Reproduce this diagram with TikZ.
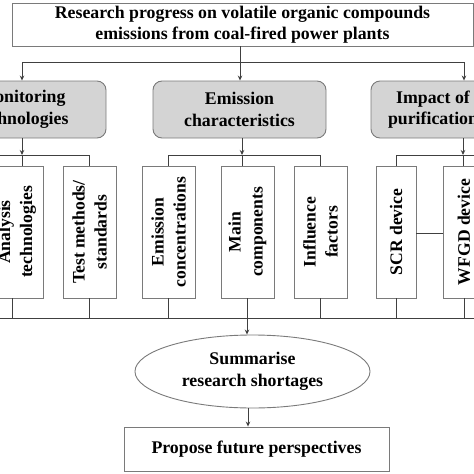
\documentclass[tikz,border=0pt]{standalone}
\usepackage{fontspec}
\setmainfont{Liberation Serif}
\usetikzlibrary{arrows.meta,shapes.geometric}
\definecolor{boxgray}{HTML}{7A7A7A}
\definecolor{grpfill}{HTML}{D4D4D4}
\definecolor{linegray}{HTML}{404040}
\begin{document}
\begin{tikzpicture}[x=1pt,y=-1pt,
  txt/.style={font=\fontsize{17.8}{21.5}\selectfont\bfseries, align=center, text=black},
  box/.style={txt, draw=boxgray, line width=0.9pt, fill=white, inner sep=0pt},
  grp/.style={box, fill=grpfill, rounded corners=9pt, minimum height=57pt},
  vbox/.style={box, rotate=90, minimum width=132pt, font=\fontsize{17.6}{22}\selectfont\bfseries},
  ell/.style={box, ellipse, minimum width=235pt, minimum height=73pt},
  ln/.style={draw=linegray, line width=0.9pt},
  arr/.style={ln, -{Stealth[length=5pt,width=4.5pt]}}
]
\useasboundingbox (0,0) rectangle (474,474);
\clip (0,0) rectangle (474,474);
% top
\node[box, minimum width=461pt, minimum height=43pt] (top) at (242.5,24.5)
  {Research progress on volatile organic compounds\\emissions from coal-fired power plants};
% groups
\node[grp, minimum width=168pt] (mon) at (22,109.5) {Monitoring\\technologies};
\node[grp, minimum width=173pt] (emi) at (239.5,109.5) {Emission\\characteristics};
\node[grp, minimum width=124pt] (imp) at (433,109.5) {Impact of\\purification};
% vertical boxes
\node[vbox, minimum height=52pt] (ana) at (17,232) {Analysis\\technologies};
\node[vbox, minimum height=53pt] (tst) at (89.5,232) {Test methods/\\standards};
\node[vbox, minimum height=53pt] (con) at (168.5,232) {Emission\\concentrations};
\node[vbox, minimum height=53pt] (mai) at (247.5,232) {Main\\components};
\node[vbox, minimum height=53pt] (inf) at (320.5,232) {Influence\\factors};
\node[vbox, minimum height=40pt] (scr) at (396,232) {SCR device};
\node[vbox, minimum height=42pt] (wfg) at (464,232) {WFGD device};
% bottom
\node[ell] (sum) at (252.5,371.5) {Summarise\\research shortages};
\node[box, minimum width=265pt, minimum height=44pt] (fin) at (256.5,449) {Propose future perspectives};
% level 1 connectors
\coordinate (t1) at (240,62);
\coordinate (tl) at (22,62);
\coordinate (tr) at (464,62);
\draw[ln] (top.south -| t1) -- (t1);
\draw[ln] (tl) -- (tr);
\draw[arr] (tl) -- (mon.north -| tl);
\draw[arr] (t1) -- (emi.north -| t1);
\draw[arr] (tr) -- (imp.north -| tr);
% level 2 connectors
\coordinate (m1) at (22,155);
\coordinate (e1) at (242,155);
\coordinate (i1) at (463,155);
\draw[arr] (mon.south -| m1) -- (m1);
\draw[ln] (m1) -- (ana.east -| m1);
\draw[ln] (-20,155) -- (tst.east |- m1) -- (tst.east);
\draw[arr] (emi.south -| e1) -- (e1);
\draw[ln] (e1) -- (mai.east -| e1);
\draw[ln] (con.east) -- (con.east |- e1) -- (inf.east |- e1) -- (inf.east);
\draw[arr] (imp.south -| i1) -- (i1);
\draw[ln] (i1) -- (wfg.east -| i1);
\draw[ln] (scr.east) -- (scr.east |- i1) -- (490,155);
\draw[ln] (scr.south |- 0,233) -- (wfg.north |- 0,233);
% bottom bus
\coordinate (bus) at (247,318);
\coordinate (a0) at (12,298);
\draw[ln] (-5,318) -- (480,318);
\draw[ln] (a0) -- (a0 |- bus);
\foreach \n in {tst,con,mai,inf,scr,wfg}
  \draw[ln] (\n.west) -- (\n.west |- bus);
\draw[arr] (bus) -- (sum.north -| bus);
\coordinate (s1) at (248,408);
\draw[arr] (s1) -- (fin.north -| s1);
\end{tikzpicture}
\end{document}
